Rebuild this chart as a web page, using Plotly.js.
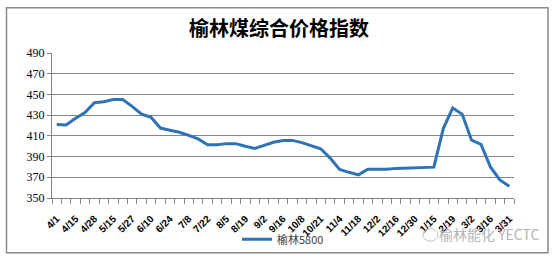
<!DOCTYPE html>
<html>
<head>
<meta charset="utf-8">
<script src="https://cdn.plot.ly/plotly-3.0.1.min.js"></script>
<style>
  html, body { margin: 0; padding: 0; background: #fff; }
  #chart { width: 558px; height: 266px; }
</style>
</head>
<body>
<div id="chart"></div>
<script>
// ---- data ----
const chartTitle = '榆林煤综合价格指数';
const seriesName = '榆林5800';
const tickLabels = ['4/1','4/15','4/28','5/15','5/27','6/10','6/24','7/8','7/22','8/5','8/19','9/2','9/16',
  '10/8','10/21','11/4','11/18','12/2','12/16','12/30','1/15','2/19','3/2','3/16','3/31'];
const priceIndex = [421, 420.5, 427, 432.5, 442, 443, 445, 445, 438.5, 431, 428, 417.5, 415.5, 413.5,
  410.5, 407, 401.5, 401.5, 402.5, 402.5, 400, 397.8, 400.8, 403.8, 405.6, 405.6, 403.5, 400.8,
  397.6, 388.5, 377.6, 374.8, 372.3, 377.8, 377.8, 377.8, 378.6, 379, 379.6, 379.8, 379.8, 417,
  437, 431, 405.8, 401.8, 380, 367.5, 361.3];
const watermark = '榆林能化 YECTC';

// ---- chart ----
const xIdx = priceIndex.map((_, i) => i);
const labelPos = tickLabels.map((_, i) => i * 2);
const boundaries = priceIndex.map((_, i) => i - 0.5).concat([priceIndex.length - 0.5]);

const trace = {
  x: xIdx,
  y: priceIndex,
  type: 'scatter',
  mode: 'lines',
  name: seriesName,
  line: { color: '#2f72b5', width: 3 },
  hoverinfo: 'skip'
};

const W = 558, H = 266;
const L = 52, R = 44, T = 53, B = 62;
const pw = W - L - R, ph = H - T - B;
const px = v => (v - L) / pw;
const py = v => (H - B - v) / ph;

const layout = {
  width: W, height: H,
  margin: { l: L, r: R, t: T, b: B, pad: 0 },
  paper_bgcolor: '#ffffff',
  plot_bgcolor: '#ffffff',
  title: {
    text: chartTitle,
    xref: 'container', x: 0.5, xanchor: 'center',
    yref: 'container', y: 1 - 29 / H, yanchor: 'middle',
    font: { family: 'Noto Sans CJK SC', size: 20, color: '#000000', weight: 'bold' }
  },
  xaxis: {
    type: 'linear',
    range: [-0.5, priceIndex.length - 0.5],
    tickmode: 'array',
    tickvals: labelPos,
    ticktext: tickLabels,
    tickangle: -45,
    ticks: 'outside', ticklen: 10, tickcolor: 'rgba(0,0,0,0)',
    tickfont: { family: 'Liberation Sans', size: 10, color: '#000000', weight: 'bold' },
    showgrid: false, zeroline: false,
    showline: true, linecolor: '#868686', linewidth: 1,
    minor: { tickmode: 'array', tickvals: boundaries, ticks: 'outside', ticklen: 5, tickcolor: '#868686', tickwidth: 1, showgrid: false },
    fixedrange: true
  },
  yaxis: {
    range: [350, 490],
    tick0: 350, dtick: 20,
    ticks: 'outside', ticklen: 4, tickcolor: '#868686',
    tickfont: { family: 'Liberation Serif', size: 12, color: '#000000' },
    showgrid: true, gridcolor: '#868686', gridwidth: 1,
    zeroline: false,
    showline: true, linecolor: '#868686', linewidth: 1,
    fixedrange: true
  },
  showlegend: true,
  legend: {
    orientation: 'h',
    x: px(237), xanchor: 'left',
    y: py(247), yanchor: 'middle',
    font: { family: 'Noto Sans CJK SC', size: 11, color: '#404040' },
    bgcolor: 'rgba(0,0,0,0)',
    itemwidth: 30
  },
  annotations: [{
    text: watermark,
    xref: 'paper', yref: 'paper',
    x: px(541), xanchor: 'right',
    y: py(242), yanchor: 'middle',
    showarrow: false,
    font: { family: 'Noto Sans CJK SC', size: 14, color: '#b4b4b4' }
  }],
  shapes: [{
    type: 'rect', xref: 'paper', yref: 'paper',
    x0: px(6.5), x1: px(548), y0: py(261), y1: py(6),
    line: { color: '#8a8a8a', width: 1.5 },
    fillcolor: 'rgba(0,0,0,0)', layer: 'below'
  }, {
    type: 'circle', xref: 'paper', yref: 'paper',
    x0: px(423), x1: px(438), y0: py(249), y1: py(236),
    line: { color: '#c4c4c4', width: 1 },
    fillcolor: 'rgba(0,0,0,0)'
  }]
};

Plotly.newPlot('chart', [trace], layout, { displayModeBar: false, staticPlot: true });
</script>
</body>
</html>
